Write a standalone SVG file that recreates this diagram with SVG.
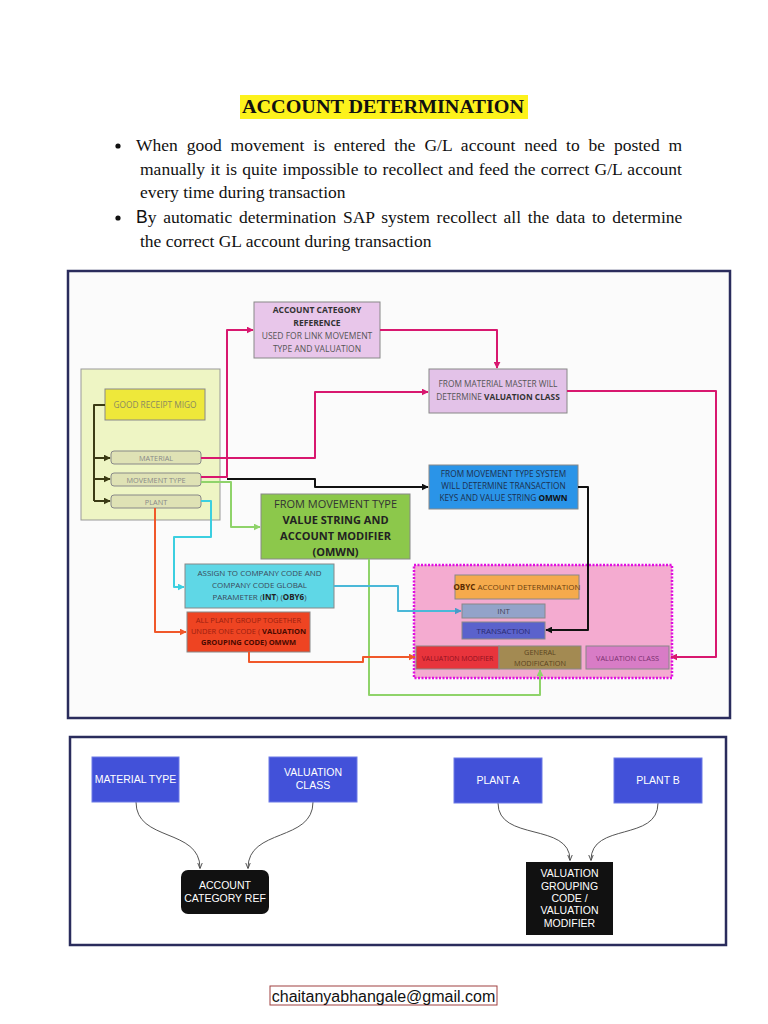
<svg xmlns="http://www.w3.org/2000/svg" width="768" height="1024" viewBox="0 0 768 1024">
<defs>
<style>
.serif{font-family:"Liberation Serif","Times New Roman",serif;}
.os{font-family:"Open Sans","Noto Sans",sans-serif;}
.ar{font-family:"Liberation Sans",Arial,sans-serif;}
.t{text-anchor:middle;}
.b{font-weight:bold;}
.box{stroke:#888;stroke-width:1;}
.c{fill:none;stroke-width:2;stroke-linejoin:round;}
.w{fill:#fff;text-anchor:middle;}
.blue{fill:#4251d9;stroke:#6d7be6;stroke-width:1;}
.crv{fill:none;stroke:#555;stroke-width:1;}
</style>
<marker id="mp" viewBox="0 0 10 10" refX="9" refY="5" markerWidth="7" markerHeight="7" markerUnits="userSpaceOnUse" orient="auto"><path d="M0,0L10,5L0,10z" fill="#d8186f"/></marker>
<marker id="mk" viewBox="0 0 10 10" refX="9" refY="5" markerWidth="7" markerHeight="7" markerUnits="userSpaceOnUse" orient="auto"><path d="M0,0L10,5L0,10z" fill="#111"/></marker>
<marker id="mg" viewBox="0 0 10 10" refX="9" refY="5" markerWidth="7" markerHeight="7" markerUnits="userSpaceOnUse" orient="auto"><path d="M0,0L10,5L0,10z" fill="#8fd36a"/></marker>
<marker id="mc" viewBox="0 0 10 10" refX="9" refY="5" markerWidth="7" markerHeight="7" markerUnits="userSpaceOnUse" orient="auto"><path d="M0,0L10,5L0,10z" fill="#3ccfe0"/></marker>
<marker id="mb" viewBox="0 0 10 10" refX="9" refY="5" markerWidth="7" markerHeight="7" markerUnits="userSpaceOnUse" orient="auto"><path d="M0,0L10,5L0,10z" fill="#4a9ac8"/></marker>
<marker id="mo" viewBox="0 0 10 10" refX="9" refY="5" markerWidth="7" markerHeight="7" markerUnits="userSpaceOnUse" orient="auto"><path d="M0,0L10,5L0,10z" fill="#f0582a"/></marker>
<marker id="md" viewBox="0 0 10 10" refX="9" refY="5" markerWidth="7" markerHeight="7" markerUnits="userSpaceOnUse" orient="auto"><path d="M0,0L10,5L0,10z" fill="#3b3b14"/></marker>
<marker id="mt" viewBox="0 0 10 10" refX="9" refY="5" markerWidth="6" markerHeight="6" markerUnits="userSpaceOnUse" orient="auto"><path d="M0,1L10,5L0,9" fill="none" stroke="#444" stroke-width="1.5"/></marker>
</defs>
<rect width="768" height="1024" fill="#fff"/>

<g id="title">
<rect x="240" y="95" width="288" height="24" fill="#fdf21c"/>
<text x="383" y="113" class="serif" font-size="18.5" font-weight="bold" text-anchor="middle" fill="#111" textLength="282" lengthAdjust="spacingAndGlyphs">ACCOUNT DETERMINATION</text>
</g>

<g id="bullets" class="serif" font-size="17.5" fill="#111">
<circle cx="118" cy="146" r="2.6"/>
<circle cx="118" cy="218" r="2.6"/>
<text x="136" y="151" word-spacing="4.5">When good movement is entered the G/L account need to be posted m</text>
<text x="140" y="175" word-spacing="0.9">manually it is quite impossible to recollect and feed the correct G/L account</text>
<text x="140" y="198">every time during transaction</text>
<text x="136" y="223" word-spacing="2.4"><tspan font-family="Liberation Sans, Arial, sans-serif">B</tspan>y automatic determination SAP system recollect all the data to determine</text>
<text x="140" y="247">the correct GL account during transaction</text>
</g>

<g id="frame1">
<rect x="68" y="271" width="662" height="447" fill="#fbfbfb" stroke="#2a2c5c" stroke-width="2.5"/>
</g>
<g id="frame2">
<rect x="70" y="737" width="656" height="208" fill="#fff" stroke="#2a2c5c" stroke-width="2.5"/>
</g>

<g id="input-group">
<rect x="81" y="369" width="139" height="151" fill="#eef5c4" stroke="#999" stroke-width="1"/>
</g>
<g id="good-receipt" class="os">
<rect x="105" y="389" width="100" height="31" fill="#eee83a" class="box"/>
<text x="155" y="408" class="t" font-size="8.3" fill="#8a8a60">GOOD RECEIPT MIGO</text>
</g>
<g id="material" class="os">
<rect x="111" y="451" width="90" height="13" rx="3" fill="#dfe2b5" class="box"/>
<text x="156" y="460.5" class="t" font-size="7.3" fill="#888">MATERIAL</text>
</g>
<g id="movement-type" class="os">
<rect x="111" y="473" width="90" height="13" rx="3" fill="#dfe2b5" class="box"/>
<text x="156" y="482.5" class="t" font-size="7.3" fill="#888">MOVEMENT TYPE</text>
</g>
<g id="plant" class="os">
<rect x="111" y="495" width="90" height="13" rx="3" fill="#dfe2b5" class="box"/>
<text x="156" y="504.5" class="t" font-size="7.3" fill="#888">PLANT</text>
</g>

<g id="account-category" class="os" font-size="8.5" fill="#555">
<rect x="254" y="302" width="126" height="56" fill="#e8c6ea" class="box"/>
<text x="317" y="313" class="t b" fill="#333">ACCOUNT CATEGORY</text>
<text x="317" y="326" class="t b" fill="#333">REFERENCE</text>
<text x="317" y="339" class="t">USED FOR LINK MOVEMENT</text>
<text x="317" y="352" class="t">TYPE AND VALUATION</text>
</g>

<g id="material-master" class="os" font-size="8.3" fill="#555">
<rect x="429" y="369" width="138" height="44" fill="#e3c2e8" class="box"/>
<text x="498" y="387" class="t">FROM MATERIAL MASTER WILL</text>
<text x="498" y="400" class="t">DETERMINE <tspan class="b" fill="#333">VALUATION CLASS</tspan></text>
</g>

<g id="movement-system" class="os" font-size="8.3" fill="#1c3050">
<rect x="429" y="465" width="149" height="44" fill="#2a94e8" class="box"/>
<text x="503.5" y="477" class="t">FROM MOVEMENT TYPE SYSTEM</text>
<text x="503.5" y="489" class="t">WILL DETERMINE TRANSACTION</text>
<text x="503.5" y="501" class="t">KEYS AND VALUE STRING <tspan class="b" fill="#111">OMWN</tspan></text>
</g>

<g id="value-string" class="os" font-size="11" fill="#333">
<rect x="261" y="494" width="149" height="65" fill="#8cc84b" class="box"/>
<text x="335.5" y="508" class="t">FROM MOVEMENT TYPE</text>
<text x="335.5" y="524" class="t b" fill="#222">VALUE STRING AND</text>
<text x="335.5" y="540" class="t b" fill="#222">ACCOUNT MODIFIER</text>
<text x="335.5" y="556" class="t b" fill="#222">(OMWN)</text>
</g>

<g id="company-code" class="os" font-size="8" fill="#3a4a5a">
<rect x="185" y="564" width="149" height="44" fill="#5fd7e6" class="box"/>
<text x="259.5" y="576" class="t">ASSIGN TO COMPANY CODE AND</text>
<text x="259.5" y="588" class="t">COMPANY CODE GLOBAL</text>
<text x="259.5" y="600" class="t">PARAMETER (<tspan class="b" fill="#222">INT</tspan>) (<tspan class="b" fill="#222">OBY6</tspan>)</text>
</g>

<g id="plant-group" class="os" font-size="7.5" fill="#9a2010">
<rect x="187" y="612" width="123" height="40" fill="#ee4422" class="box"/>
<text x="248.5" y="623" class="t">ALL PLANT GROUP TOGETHER</text>
<text x="248.5" y="634" class="t">UNDER ONE CODE ( <tspan class="b" fill="#4a0a00">VALUATION</tspan></text>
<text x="248.5" y="645" class="t b" fill="#4a0a00">GROUPING CODE) OMWM</text>
</g>

<g id="obyc-container">
<rect x="414" y="565" width="258" height="113" fill="#f4abd0" stroke="#e010e0" stroke-width="2.5" stroke-dasharray="2 1.5"/>
</g>
<g id="obyc" class="os" font-size="8" fill="#6a4010">
<rect x="455" y="575" width="124" height="24" fill="#f5aa4c" class="box"/>
<text x="517" y="590" class="t"><tspan class="b" fill="#5a2a00">OBYC</tspan> ACCOUNT DETERMINATION</text>
</g>
<g id="int" class="os" font-size="8" fill="#445">
<rect x="462" y="604" width="83" height="14" fill="#93a3c9" class="box"/>
<text x="503.5" y="614" class="t">INT</text>
</g>
<g id="transaction" class="os" font-size="8" fill="#2a2a70">
<rect x="462" y="622" width="83" height="17" fill="#5b62cc" class="box"/>
<text x="503.5" y="633.5" class="t">TRANSACTION</text>
</g>
<g id="valuation-modifier" class="os" font-size="6.9" fill="#901020">
<rect x="416" y="646" width="83" height="23" fill="#e8343c" class="box"/>
<text x="457.5" y="660.5" class="t">VALUATION MODIFIER</text>
</g>
<g id="general-modification" class="os" font-size="7.3" fill="#5a4420">
<rect x="499" y="646" width="82" height="23" fill="#a38a52" class="box"/>
<text x="540" y="655" class="t">GENERAL</text>
<text x="540" y="665.5" class="t">MODIFICATION</text>
</g>
<g id="valuation-class" class="os" font-size="7.3" fill="#7a3070">
<rect x="586" y="646" width="83" height="23" fill="#d87cc6" class="box"/>
<text x="627.5" y="660.5" class="t">VALUATION CLASS</text>
</g>

<g id="connectors">
<path class="c" stroke="#3b3b14" d="M105,405H94V501"/>
<path class="c" stroke="#3b3b14" d="M94,458H110" marker-end="url(#md)"/>
<path class="c" stroke="#3b3b14" d="M94,479H110" marker-end="url(#md)"/>
<path class="c" stroke="#3b3b14" d="M94,501H110" marker-end="url(#md)"/>
<path class="c" stroke="#d8186f" d="M201,477H227V330H253" marker-end="url(#mp)"/>
<path class="c" stroke="#d8186f" d="M201,458H315V392H428" marker-end="url(#mp)"/>
<path class="c" stroke="#d8186f" d="M380,330H497V368" marker-end="url(#mp)"/>
<path class="c" stroke="#d8186f" d="M567,391H716V657H671" marker-end="url(#mp)"/>
<path class="c" stroke="#111" d="M227,479H315V487H428" marker-end="url(#mk)"/>
<path class="c" stroke="#111" d="M578,487H588V630H546" marker-end="url(#mk)"/>
<path class="c" stroke="#8fd36a" d="M201,482H231V527H260" marker-end="url(#mg)"/>
<path class="c" stroke="#8fd36a" d="M369,559V695H540V670" marker-end="url(#mg)"/>
<path class="c" stroke="#3ccfe0" d="M201,501H211V537H174V587H184" marker-end="url(#mc)"/>
<path class="c" stroke="#4ab8d8" d="M334,586H398V611H461" marker-end="url(#mb)"/>
<path class="c" stroke="#f0582a" d="M155,508V632H186" marker-end="url(#mo)"/>
<path class="c" stroke="#f0582a" d="M249,652V662H363V657H415" marker-end="url(#mo)"/>
<path class="crv" d="M136,802C136,842 200,828 200,868" marker-end="url(#mt)"/>
<path class="crv" d="M313,802C313,842 248,828 248,868" marker-end="url(#mt)"/>
<path class="crv" d="M498,803C498,842 570,822 570,860" marker-end="url(#mt)"/>
<path class="crv" d="M658,803C658,842 591,822 591,860" marker-end="url(#mt)"/>
</g>

<g id="material-type" class="ar" font-size="10.5">
<rect x="92" y="757" width="87" height="45" class="blue"/>
<text x="135.5" y="783" class="w">MATERIAL TYPE</text>
</g>
<g id="valuation-class-2" class="ar" font-size="10.5">
<rect x="269" y="757" width="88" height="45" class="blue"/>
<text x="313" y="776" class="w">VALUATION</text>
<text x="313" y="789" class="w">CLASS</text>
</g>
<g id="account-category-ref" class="ar" font-size="10.5">
<rect x="181" y="870" width="88" height="44" rx="7" fill="#111"/>
<text x="225" y="889" class="w">ACCOUNT</text>
<text x="225" y="902" class="w">CATEGORY REF</text>
</g>
<g id="plant-a" class="ar" font-size="10.5">
<rect x="454" y="758" width="88" height="45" class="blue"/>
<text x="498" y="784" class="w">PLANT A</text>
</g>
<g id="plant-b" class="ar" font-size="10.5">
<rect x="614" y="758" width="88" height="45" class="blue"/>
<text x="658" y="784" class="w">PLANT B</text>
</g>
<g id="valuation-grouping" class="ar" font-size="10.5">
<rect x="526" y="862" width="87" height="73" fill="#111"/>
<text x="569.5" y="877" class="w">VALUATION</text>
<text x="569.5" y="889.5" class="w">GROUPING</text>
<text x="569.5" y="902" class="w">CODE /</text>
<text x="569.5" y="914" class="w">VALUATION</text>
<text x="569.5" y="926.5" class="w">MODIFIER</text>
</g>

<g id="email">
<rect x="270" y="986" width="227" height="19" fill="none" stroke="#a04040" stroke-width="1"/>
<text x="383.5" y="1001.5" class="ar" font-size="16" text-anchor="middle" fill="#111">chaitanyabhangale@gmail.com</text>
</g>
</svg>
